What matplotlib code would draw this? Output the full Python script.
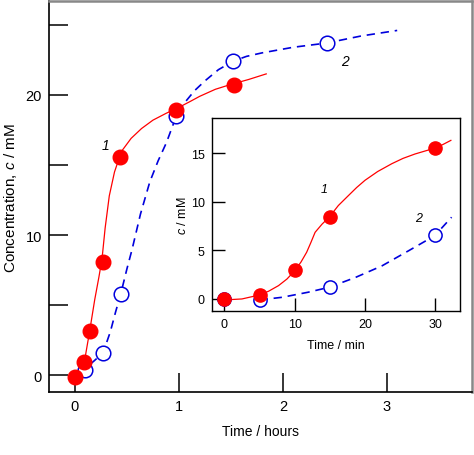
import numpy as np
import matplotlib
matplotlib.use("Agg")
import matplotlib.pyplot as plt
from matplotlib.ticker import MultipleLocator

plt.rcParams['font.family'] = ['Liberation Sans', 'DejaVu Sans']
plt.rcParams['mathtext.fontset'] = 'custom'
plt.rcParams['mathtext.rm'] = 'Liberation Sans'
plt.rcParams['mathtext.it'] = 'Liberation Sans:italic'

# main plot, time in hours
t1_h = [0.0, 0.09, 0.14, 0.27, 0.43, 0.97, 1.53]
c1_h = [-0.1, 0.95, 3.15, 8.1, 15.6, 18.95, 20.7]
t2_h = [0.1, 0.27, 0.44, 0.97, 1.52, 2.42]
c2_h = [0.35, 1.6, 5.8, 18.5, 22.45, 23.7]

# fitted curves
fit1_t = [0.0, 0.05, 0.09, 0.14, 0.19, 0.23, 0.26, 0.29, 0.33, 0.38, 0.43,
          0.46, 0.54, 0.64, 0.75, 0.88, 0.97, 1.1, 1.2, 1.35, 1.5, 1.67, 1.84]
fit1_c = [-0.1, 0.4, 0.95, 3.1, 5.4, 7.0, 8.3, 10.5, 12.8, 14.5, 15.6,
          16.1, 16.9, 17.6, 18.2, 18.7, 19.0, 19.5, 19.9, 20.4, 20.75, 21.1, 21.5]
fit2_t = [0.05, 0.1, 0.18, 0.27, 0.34, 0.39, 0.44, 0.5, 0.55, 0.63, 0.72,
          0.8, 0.88, 0.97, 1.05, 1.15, 1.25, 1.38, 1.52, 1.65, 1.8, 2.1, 2.42, 2.75, 3.1]
fit2_c = [0.1, 0.5, 1.0, 1.6, 3.1, 4.5, 5.8, 7.6, 9.0, 11.5, 13.8,
          15.3, 16.6, 18.4, 19.4, 20.3, 21.0, 21.8, 22.4, 22.75, 23.0, 23.4, 23.7, 24.2, 24.6]

# inset, time in minutes
t1_m = [0, 5, 10, 15, 30]
c1_m = [0.0, 0.41, 2.95, 8.45, 15.55]
t2_m = [0, 5, 15, 30]
c2_m = [0.0, -0.1, 1.2, 6.55]

ins1_t = [0.0, 2.5, 5.0, 6.3, 7.7, 8.9, 10.0, 10.9, 11.7, 12.3, 12.9, 13.9, 14.9,
          16.2, 17.6, 18.8, 20.0, 21.8, 23.8, 25.4, 27.1, 28.5, 29.9, 31.0, 32.2]
ins1_c = [-0.1, 0.0, 0.41, 0.8, 1.37, 2.05, 2.9, 3.8, 4.8, 5.8, 6.85, 7.7, 8.4,
          9.6, 10.6, 11.45, 12.2, 13.1, 13.9, 14.45, 14.9, 15.2, 15.5, 15.85, 16.3]
ins2_t = [5.0, 8.2, 11.9, 14.9, 18.6, 22.4, 26.2, 29.9, 32.3]
ins2_c = [-0.1, 0.17, 0.69, 1.2, 2.2, 3.4, 4.96, 6.5, 8.4]

red = '#ff0000'
blue = '#0000dd'

fig = plt.figure(figsize=(4.74, 4.56), dpi=100)
ax = fig.add_axes([0.1034, 0.138, 0.8924, 0.8576])

ax.plot(fit1_t, fit1_c, '-', color=red, lw=0.9, zorder=2)
ax.plot(fit2_t, fit2_c, '--', color=blue, lw=1.2, dashes=(5, 3.5), zorder=2)
ax.plot(t2_h, c2_h, 'o', ms=10.5, mfc='white', mec=blue, mew=1.1, zorder=3)
ax.plot(t1_h, c1_h, 'o', ms=10.5, color=red, zorder=4)
ax.text(0.29, 16.4, '1', fontsize=10, style='italic', ha='center', va='center')
ax.text(2.6, 22.4, '2', fontsize=10, style='italic', ha='center', va='center')

ax.set_xlim(-0.25, 3.82)
ax.set_ylim(-1.2, 26.7)
ax.set_xticks([0, 1, 2, 3])
ax.set_yticks([0, 10, 20])
ax.yaxis.set_minor_locator(MultipleLocator(5))
ax.tick_params(direction='in', length=14, width=1.1, labelsize=10.5, pad=5)
ax.tick_params(axis='y', which='minor', direction='in', length=14, width=1.1)
ax.tick_params(top=False, right=False)
for s in ['left', 'bottom']:
    ax.spines[s].set_linewidth(1.2)
for s in ['top', 'right']:
    ax.spines[s].set_color('#888888')
    ax.spines[s].set_linewidth(1.8)
ax.set_xlabel('Time / hours', fontsize=10, labelpad=8)
ax.set_ylabel('Concentration, $c$ / mM', fontsize=11, labelpad=5)

# inset
ins = fig.add_axes([0.4466, 0.3151, 0.5239, 0.4233])
ins.plot(ins1_t, ins1_c, '-', color=red, lw=0.9, zorder=2)
ins.plot(ins2_t, ins2_c, '--', color=blue, lw=1.2, dashes=(5, 3.5), zorder=2)
ins.plot(t2_m, c2_m, 'o', ms=9.5, mfc='white', mec=blue, mew=1.1, zorder=3)
ins.plot(t1_m, c1_m, 'o', ms=9.5, color=red, zorder=4)
ins.text(14.2, 11.3, '1', fontsize=9, style='italic', ha='center', va='center')
ins.text(27.6, 8.3, '2', fontsize=9, style='italic', ha='center', va='center')

ins.set_xlim(-1.8, 33.5)
ins.set_ylim(-1.27, 18.57)
ins.set_xticks([0, 10, 20, 30])
ins.set_yticks([0, 5, 10, 15])
ins.tick_params(direction='in', length=9.5, width=1.0, labelsize=9, pad=5)
for s in ins.spines.values():
    s.set_linewidth(1.0)
ins.set_xlabel('Time / min', fontsize=9, labelpad=6)
ins.set_ylabel('$c$ / mM', fontsize=9, labelpad=1)

fig.savefig('out.png', dpi=100)
